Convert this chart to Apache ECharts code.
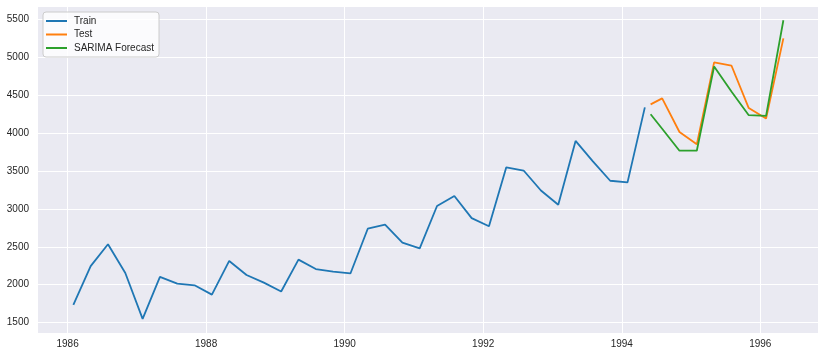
<!DOCTYPE html>
<html>
<head>
<meta charset="utf-8">
<style>
html,body{margin:0;padding:0;background:#fff;}
#chart{width:825px;height:356px;}
</style>
<script src="https://cdn.jsdelivr.net/npm/echarts@6/dist/echarts.min.js"></script>
</head>
<body>
<div id="chart"></div>
<script>
// ---- data ----
const trainDates = [
  '1986-02','1986-05','1986-08','1986-11',
  '1987-02','1987-05','1987-08','1987-11',
  '1988-02','1988-05','1988-08','1988-11',
  '1989-02','1989-05','1989-08','1989-11',
  '1990-02','1990-05','1990-08','1990-11',
  '1991-02','1991-05','1991-08','1991-11',
  '1992-02','1992-05','1992-08','1992-11',
  '1993-02','1993-05','1993-08','1993-11',
  '1994-02','1994-05'
];
const trainValues = [
  1734.83, 2244.96, 2533.80, 2154.96,
  1547.82, 2104.41, 2014.36, 1991.75,
  1869.05, 2313.63, 2128.32, 2026.83,
  1910.60, 2331.16, 2206.55, 2173.97,
  2148.28, 2739.31, 2792.75, 2556.01,
  2480.97, 3039.52, 3172.12, 2879.00,
  2772.00, 3550.00, 3508.00, 3243.86,
  3056.00, 3899.00, 3629.00, 3373.00,
  3352.00, 4342.00
];
const testDates = ['1994-06','1994-08','1994-11','1995-02','1995-05','1995-08','1995-11','1996-02','1996-05'];
const testValues = [4382, 4461, 4017, 3854, 4936, 4895, 4333, 4194, 5253];
const forecastValues = [4252, 4060, 3770, 3770, 4882, 4551, 4239, 4230, 5493];

const xTickLabels = [1986, 1988, 1990, 1992, 1994, 1996];
const yTickLabels = [1500, 2000, 2500, 3000, 3500, 4000, 4500, 5000, 5500];

const seriesNames = ['Train', 'Test', 'SARIMA Forecast'];

// ---- helpers ----
function toYear(s) {
  const [y, m] = s.split('-').map(Number);
  return y + (m - 1) / 12;
}
function pairs(dates, vals) {
  return dates.map((d, i) => [toYear(d), vals[i]]);
}

const FONT = "'Liberation Sans', Arial, sans-serif";
const chart = echarts.init(document.getElementById('chart'), null, {renderer: 'canvas'});

chart.setOption({
  animation: false,
  backgroundColor: '#ffffff',
  grid: {
    left: 38, right: 7, top: 7, bottom: 23,
    show: true, backgroundColor: '#EAEAF2', borderWidth: 0
  },
  xAxis: {
    type: 'value',
    min: 1985.573, max: 1996.833,
    axisLine: {show: false},
    axisTick: {show: false, customValues: xTickLabels},
    axisLabel: {
      customValues: xTickLabels,
      color: '#262626', fontFamily: FONT, fontSize: 10, margin: 6,
      formatter: v => String(Math.round(v))
    },
    splitLine: {show: true, lineStyle: {color: '#ffffff', width: 1}}
  },
  yAxis: {
    type: 'value',
    min: 1362, max: 5668,
    axisLine: {show: false},
    axisTick: {show: false, customValues: yTickLabels},
    axisLabel: {
      customValues: yTickLabels,
      color: '#262626', fontFamily: FONT, fontSize: 10, margin: 9,
      formatter: v => String(Math.round(v))
    },
    splitLine: {show: true, lineStyle: {color: '#ffffff', width: 1}}
  },
  legend: {
    orient: 'vertical',
    left: 43, top: 12,
    data: seriesNames,
    icon: 'rect',
    itemWidth: 21, itemHeight: 2,
    itemGap: 1.5,
    padding: [3, 5, 3, 3],
    backgroundColor: 'rgba(255,255,255,0.8)',
    borderColor: '#cccccc', borderWidth: 1, borderRadius: 3,
    textStyle: {color: '#262626', fontFamily: FONT, fontSize: 10, lineHeight: 12, padding: [0, 0, 0, 2]}
  },
  series: [
    {
      name: seriesNames[0], type: 'line', data: pairs(trainDates, trainValues),
      showSymbol: false, symbol: 'none',
      lineStyle: {color: '#1f77b4', width: 1.8}, itemStyle: {color: '#1f77b4'}
    },
    {
      name: seriesNames[1], type: 'line', data: pairs(testDates, testValues),
      showSymbol: false, symbol: 'none',
      lineStyle: {color: '#ff7f0e', width: 1.8}, itemStyle: {color: '#ff7f0e'}
    },
    {
      name: seriesNames[2], type: 'line', data: pairs(testDates, forecastValues),
      showSymbol: false, symbol: 'none',
      lineStyle: {color: '#2ca02c', width: 1.8}, itemStyle: {color: '#2ca02c'}
    }
  ]
});
</script>
</body>
</html>
